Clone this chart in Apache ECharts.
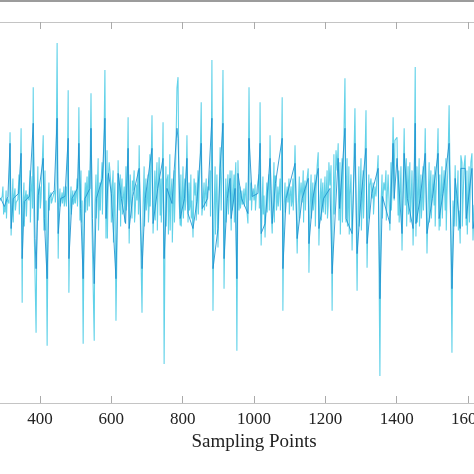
<!DOCTYPE html>
<html>
<head>
<meta charset="utf-8">
<script src="https://cdn.jsdelivr.net/npm/echarts@6/dist/echarts.min.js"></script>
<style>html,body{margin:0;padding:0;background:#fff;}#c{width:474px;height:474px;}</style>
</head>
<body>
<div id="c"></div>
<script>
var xTickValues = [400, 600, 800, 1000, 1200, 1400, 1600];
var xRange = [287.85, 1616.8];
var yRange = [-2.04, 1.76];
var xTitle = 'Sampling Points';

var lightPoints = [
[270,0.02],[288,-0.02],[294,0.02],[299,-0.07],[302,-0.14],[308,0],[313,-0.05],[316,0.66],[319,-0.37],[322,-0.02],[327,0.02],[333,-0.04],[338,-0.01],[344,0.08],[347,0.70],[350,-1.04],[352,-0.07],[358,0],[364,0.04],[369,-0.02],[375,0.06],[381,1.11],[383,-0.17],[389,-1.34],[392,-0.02],[397,0.08],[403,0],[409,0.63],[411,-0.32],[417,-0.02],[420,-1.47],[423,-0.07],[428,0.02],[434,-0.02],[439,0.05],[445,0.18],[448,1.55],[451,-0.60],[453,-0.07],[459,-0.02],[465,0.01],[470,-0.03],[476,0.08],[479,1.08],[481,-0.94],[484,-0.12],[490,0],[495,-0.04],[501,0.02],[507,0.13],[509,0.91],[512,-0.22],[518,-0.02],[521,-1.45],[524,-0.07],[529,0.02],[535,0.08],[540,0.13],[543,1.05],[546,-0.32],[552,-1.42],[554,-0.07],[560,0],[566,-0.04],[571,0.13],[577,0.23],[582,1.28],[585,-0.40],[591,0.18],[596,0.28],[602,0.08],[608,-0.02],[613,-1.22],[619,0.38],[622,-0.12],[627,0.03],[633,-0.02],[638,-0.24],[644,0],[647,0.81],[650,-0.45],[655,-0.02],[661,0.08],[667,-0.12],[672,-0.02],[678,0.53],[681,-0.17],[686,-1.14],[689,-0.07],[695,0],[700,-0.04],[706,-0.07],[711,0.18],[714,0.83],[717,-0.35],[720,-0.02],[725,0.13],[731,0.08],[734,0.41],[737,-0.17],[742,-0.02],[745,0.76],[748,-1.65],[751,-0.12],[756,0.18],[762,-0.07],[767,0.03],[773,-0.12],[779,0.08],[784,1.10],[787,1.21],[790,-0.02],[793,-0.27],[798,-0.07],[804,0.03],[809,-0.02],[812,0.63],[815,-0.24],[821,-0.07],[826,-0.02],[829,-0.39],[835,0.03],[840,-0.07],[846,0.08],[852,0.96],[854,-0.17],[857,-0.02],[863,0.02],[868,-0.02],[874,0.08],[880,0.28],[882,1.38],[885,-1.12],[888,-0.12],[894,-0.02],[899,-0.49],[902,-0.02],[905,0.51],[908,-0.12],[913,1.28],[916,-0.90],[919,-0.12],[924,0.03],[930,-0.02],[933,0.28],[936,-0.32],[941,-0.02],[947,0.18],[952,-1.52],[955,0.38],[958,-0.12],[964,0],[969,-0.04],[975,0.02],[981,-0.07],[983,-0.25],[986,1.11],[989,-0.02],[995,0.03],[1000,-0.02],[1006,0],[1011,0.08],[1017,0.96],[1020,-0.47],[1023,-0.02],[1028,0.03],[1031,-0.39],[1034,-0.02],[1039,0.08],[1045,0.63],[1048,-0.12],[1051,-0.35],[1053,-0.02],[1059,0.23],[1065,-0.02],[1070,0.03],[1076,0.08],[1079,1.01],[1081,-1.12],[1084,-0.07],[1090,0],[1095,-0.04],[1101,0.02],[1107,-0.02],[1112,0.08],[1115,0.53],[1121,-0.55],[1124,-0.07],[1129,0],[1135,-0.04],[1140,0.03],[1146,0.08],[1152,0.30],[1154,-0.74],[1157,-0.07],[1163,0],[1168,-0.04],[1174,0.08],[1180,0.46],[1182,-0.47],[1185,-0.02],[1191,0.03],[1196,-0.02],[1202,0.02],[1208,-0.07],[1213,0.13],[1216,0.33],[1219,-1.12],[1222,-0.07],[1227,0.08],[1233,0.28],[1236,0.55],[1238,-0.22],[1244,-0.02],[1250,0.18],[1255,1.20],[1258,-0.24],[1264,-0.02],[1269,0.03],[1275,-0.52],[1278,-0.02],[1283,0.90],[1289,-0.92],[1292,-0.07],[1297,0],[1303,-0.07],[1309,0.03],[1314,0.88],[1317,-0.69],[1320,-0.07],[1325,0.13],[1331,0],[1337,-0.02],[1342,0.02],[1348,0.43],[1353,-1.77],[1356,-0.07],[1362,0.03],[1367,0.08],[1373,-0.02],[1379,-0.07],[1381,-0.32],[1387,0.08],[1390,0.81],[1393,-0.02],[1395,0.58],[1401,0.61],[1404,-0.17],[1409,-0.02],[1415,-0.52],[1418,0.08],[1421,0.70],[1424,-0.07],[1429,-0.02],[1435,0.13],[1440,-0.07],[1446,-0.47],[1449,0.08],[1452,1.31],[1454,-0.38],[1460,-0.02],[1466,0.03],[1471,-0.07],[1477,0.08],[1480,0.70],[1485,-0.55],[1488,-0.07],[1494,0.13],[1499,-0.02],[1505,-0.07],[1510,0.03],[1516,0.70],[1519,-0.32],[1524,-0.02],[1530,0.08],[1536,-0.12],[1541,0.03],[1547,0.93],[1552,-0.42],[1555,-1.54],[1558,-0.02],[1564,0.33],[1569,-0.02],[1575,-0.12],[1578,-0.45],[1580,0.43],[1586,-0.02],[1592,0.43],[1595,-0.27],[1600,-0.07],[1606,0.03],[1611,0.45],[1614,-0.42],[1617,-0.07],[1630,0]
];

var lightMinor = [
[296,0.12],[298,-0.16],[305,0.08],[306,-0.20],[324,0.20],[325,-0.24],[330,0.10],[331,-0.12],[341,0.24],[342,-0.16],
[355,0.16],[356,-0.28],[361,0.08],[362,-0.18],[372,0.28],[373,-0.24],[378,0.22],[379,-0.10],
[394,0.32],[395,-0.22],[400,0.12],[401,-0.10],[414,0.28],[415,-0.32],[425,0.16],[426,-0.12],[431,0.06],[432,-0.05],[442,0.08],[443,-0.04],
[456,0.10],[457,-0.08],[462,0.06],[463,-0.05],[467,0.12],[468,-0.08],[473,0.12],[474,-0.08],
[487,0.12],[488,-0.16],[492,0.08],[493,-0.06],[498,0.08],[499,-0.05],[504,0.20],[505,-0.08],
[515,0.28],[516,-0.24],[527,0.16],[528,-0.14],[532,0.22],[533,-0.12],[537,0.28],[538,-0.08],
[557,0.24],[558,-0.20],[563,0.40],[564,-0.32],[568,0.16],[569,-0.12],[574,0.36],[575,-0.16],[579,0.44],
[588,0.48],[589,-0.40],[594,0.36],[599,0.12],[600,-0.24],[605,0.28],[606,-0.44],[610,0.16],
[625,0.24],[626,-0.28],[630,0.20],[631,-0.16],[636,0.12],[641,0.32],[642,-0.12],
[653,0.24],[658,-0.20],[659,0.18],[664,0.28],[665,-0.24],[670,0.14],[675,0.28],[676,-0.16],
[692,0.32],[693,-0.28],[697,0.20],[698,-0.12],[703,0.24],[704,-0.24],[708,0.44],[709,-0.08],
[722,0.28],[723,-0.22],[728,0.36],[729,-0.32],[739,0.20],[740,-0.24],
[753,0.32],[754,-0.28],[759,0.24],[760,-0.36],[764,0.44],[765,-0.32],[770,0.20],[771,-0.44],[776,0.28],[777,-0.24],[781,0.48],
[795,0.24],[796,-0.28],[801,0.32],[802,-0.20],[806,0.20],[807,-0.12],
[818,0.16],[819,-0.12],[823,0.24],[824,-0.20],[832,0.20],[837,0.16],[838,-0.22],[843,0.28],[844,-0.16],[849,0.36],
[860,0.16],[861,-0.12],[866,0.20],[867,-0.08],[871,0.12],[877,0.28],[878,-0.18],
[891,0.32],[892,-0.36],[896,0.24],[910,0.28],
[921,0.20],[922,-0.24],[927,0.24],[928,-0.16],[938,0.28],[939,-0.12],[944,0.24],[945,-0.24],[949,0.36],
[961,0.12],[962,-0.10],[966,0.08],[967,-0.06],[972,0.10],[973,-0.08],[978,0.16],[979,-0.08],
[992,0.16],[993,-0.12],[998,0.10],[1003,0.14],[1004,-0.12],[1008,0.08],[1014,0.24],[1015,-0.10],
[1025,0.22],[1026,-0.16],[1036,0.16],[1037,-0.14],[1042,0.24],[1043,-0.12],
[1056,0.36],[1057,-0.24],[1062,0.20],[1063,-0.12],[1067,0.12],[1068,-0.08],[1073,0.20],[1074,-0.12],
[1087,0.16],[1088,-0.14],[1093,0.12],[1098,0.20],[1099,-0.16],[1104,0.12],[1105,-0.08],[1109,0.20],[1110,-0.12],
[1127,0.22],[1128,-0.20],[1132,0.16],[1138,0.28],[1139,-0.24],[1143,0.18],[1144,-0.12],[1149,0.20],
[1160,0.24],[1161,-0.20],[1165,0.16],[1166,-0.12],[1171,0.24],[1172,-0.28],[1177,0.32],
[1188,0.20],[1189,-0.22],[1193,0.16],[1194,-0.14],[1199,0.22],[1200,-0.16],[1205,0.28],[1206,-0.20],[1210,0.36],
[1224,0.44],[1225,-0.16],[1230,0.48],[1241,0.36],[1242,-0.36],[1247,0.40],[1248,-0.24],[1252,0.60],
[1261,0.40],[1262,-0.28],[1266,0.32],[1267,-0.36],[1272,0.24],[1280,0.36],
[1294,0.32],[1295,-0.28],[1300,0.40],[1301,-0.32],[1306,0.28],[1307,-0.20],[1311,0.36],
[1322,0.24],[1323,-0.20],[1328,0.20],[1334,0.16],[1335,-0.16],[1339,0.12],[1345,0.24],
[1359,0.24],[1360,-0.20],[1364,0.16],[1370,0.28],[1371,-0.22],[1376,0.24],[1384,0.36],[1385,-0.12],
[1406,0.28],[1407,-0.24],[1412,0.32],[1427,0.40],[1428,-0.28],[1432,0.32],[1433,-0.16],[1437,0.36],[1438,-0.24],[1443,0.28],
[1457,0.32],[1458,-0.24],[1463,0.40],[1464,-0.28],[1468,0.24],[1469,-0.20],[1474,0.32],[1475,-0.12],
[1491,0.36],[1492,-0.24],[1496,0.28],[1497,-0.20],[1502,0.24],[1507,0.32],[1508,-0.28],[1513,0.28],
[1521,0.24],[1522,-0.28],[1527,0.32],[1528,-0.20],[1533,0.28],[1538,0.40],[1539,-0.32],[1544,0.36],
[1561,-0.28],[1566,0.32],[1567,-0.28],[1572,0.28],[1573,-0.32],[1583,0.36],[1584,-0.28],[1589,0.32],[1597,0.28],[1598,-0.36],[1603,0.32],[1604,-0.24],[1608,0.36]
];

var darkPoints = [
[270,0.02],[290,0],[300,-0.08],[310,0.02],[316,0.55],[319,-0.30],[325,0],[340,0.05],[347,0.45],[350,-0.60],[356,-0.03],[370,0.02],[381,0.75],[386,-0.40],[389,-0.70],[395,0.03],[409,0.40],[412,-0.20],[420,-0.80],[425,0],[440,0.08],[448,0.80],[451,-0.35],[458,0],[470,0.02],[479,0.60],[481,-0.60],[490,0],[505,0.10],[509,0.55],[514,-0.10],[521,-0.80],[526,0],[540,0.10],[543,0.70],[547,-0.20],[552,-0.85],[558,0],[575,0.20],[582,0.80],[585,-0.20],[592,0.25],[600,0.05],[613,-0.80],[619,0.25],[628,0],[640,-0.25],[647,0.50],[650,-0.30],[660,0.02],[678,0.30],[686,-0.70],[695,0],[714,0.50],[717,-0.25],[730,0.10],[745,0.40],[748,-0.60],[756,0.10],[770,-0.05],[784,0.70],[787,0.60],[793,-0.20],[805,0],[812,0.40],[815,-0.15],[829,-0.30],[840,-0.03],[852,0.55],[855,-0.10],[870,0],[882,0.80],[885,-0.70],[899,-0.30],[905,0.30],[913,0.75],[916,-0.60],[925,0],[933,0.20],[936,-0.20],[947,0.10],[952,-0.80],[955,0.25],[965,0],[983,-0.15],[986,0.60],[995,0.02],[1011,0.05],[1017,0.55],[1020,-0.35],[1031,-0.25],[1045,0.40],[1051,-0.25],[1060,0.15],[1079,0.60],[1081,-0.70],[1090,0],[1115,0.35],[1121,-0.40],[1135,0],[1152,0.20],[1154,-0.45],[1165,0],[1180,0.30],[1182,-0.30],[1195,0],[1213,0.10],[1219,-0.75],[1236,0.40],[1240,-0.10],[1255,0.70],[1258,-0.20],[1275,-0.35],[1283,0.55],[1289,-0.55],[1300,0],[1314,0.50],[1317,-0.45],[1330,0.05],[1348,0.30],[1353,-1.00],[1360,0.02],[1381,-0.25],[1390,0.55],[1393,0],[1401,0.40],[1415,-0.35],[1421,0.45],[1430,0],[1446,-0.30],[1452,0.75],[1454,-0.25],[1466,0],[1480,0.45],[1485,-0.35],[1500,0],[1516,0.45],[1519,-0.20],[1530,0.05],[1547,0.55],[1555,-0.90],[1564,0.20],[1578,-0.30],[1580,0.30],[1592,0.30],[1595,-0.20],[1611,0.30],[1614,-0.30],[1630,0]
];

var lightAll = lightPoints.concat(lightMinor).sort(function (a, b) { return a[0] - b[0]; });

var serif = '"Liberation Serif", "Times New Roman", "DejaVu Serif", serif';
var chart = echarts.init(document.getElementById('c'), null, {renderer: 'canvas'});
var axisCol = '#c4c4c4';
var tickStyle = {color: '#aaaaaa', width: 1};
chart.setOption({
  animation: false,
  backgroundColor: '#ffffff',
  textStyle: {fontFamily: serif},
  graphic: [{type: 'rect', left: 0, top: 0, shape: {width: 474, height: 2}, style: {fill: '#9c9c9c'}, silent: true}],
  grid: {left: 0, right: 0, top: 22, bottom: 71, containLabel: false, outerBoundsMode: 'none'},
  xAxis: [{
    type: 'value', min: xRange[0], max: xRange[1], position: 'bottom',
    name: xTitle, nameLocation: 'middle', nameGap: 30,
    nameTextStyle: {fontFamily: serif, fontSize: 19, color: '#222', padding: [0, 0, 0, 34]},
    axisLine: {show: true, onZero: false, lineStyle: {color: axisCol, width: 1}},
    axisTick: {show: true, inside: true, length: 7, customValues: xTickValues, lineStyle: tickStyle},
    axisLabel: {fontFamily: serif, fontSize: 17, color: '#222', margin: 8,
      customValues: xTickValues, hideOverlap: false,
      formatter: function (v) { return String(v); }},
    splitLine: {show: false}
  }, {
    type: 'value', min: xRange[0], max: xRange[1], position: 'top',
    axisLine: {show: true, onZero: false, lineStyle: {color: axisCol, width: 1}},
    axisTick: {show: true, inside: true, length: 7, customValues: xTickValues, lineStyle: tickStyle},
    axisLabel: {show: false}, splitLine: {show: false}
  }],
  yAxis: {type: 'value', min: yRange[0], max: yRange[1], show: false, splitLine: {show: false}},
  series: [{
    type: 'line', data: lightAll, showSymbol: false, symbol: 'none', clip: true,
    lineStyle: {color: '#62d2e9', width: 1.1}, z: 2
  }, {
    type: 'line', data: darkPoints, showSymbol: false, symbol: 'none', clip: true,
    lineStyle: {color: '#1f90cf', width: 1, opacity: 0.85}, z: 3
  }]
});
</script>
</body>
</html>
